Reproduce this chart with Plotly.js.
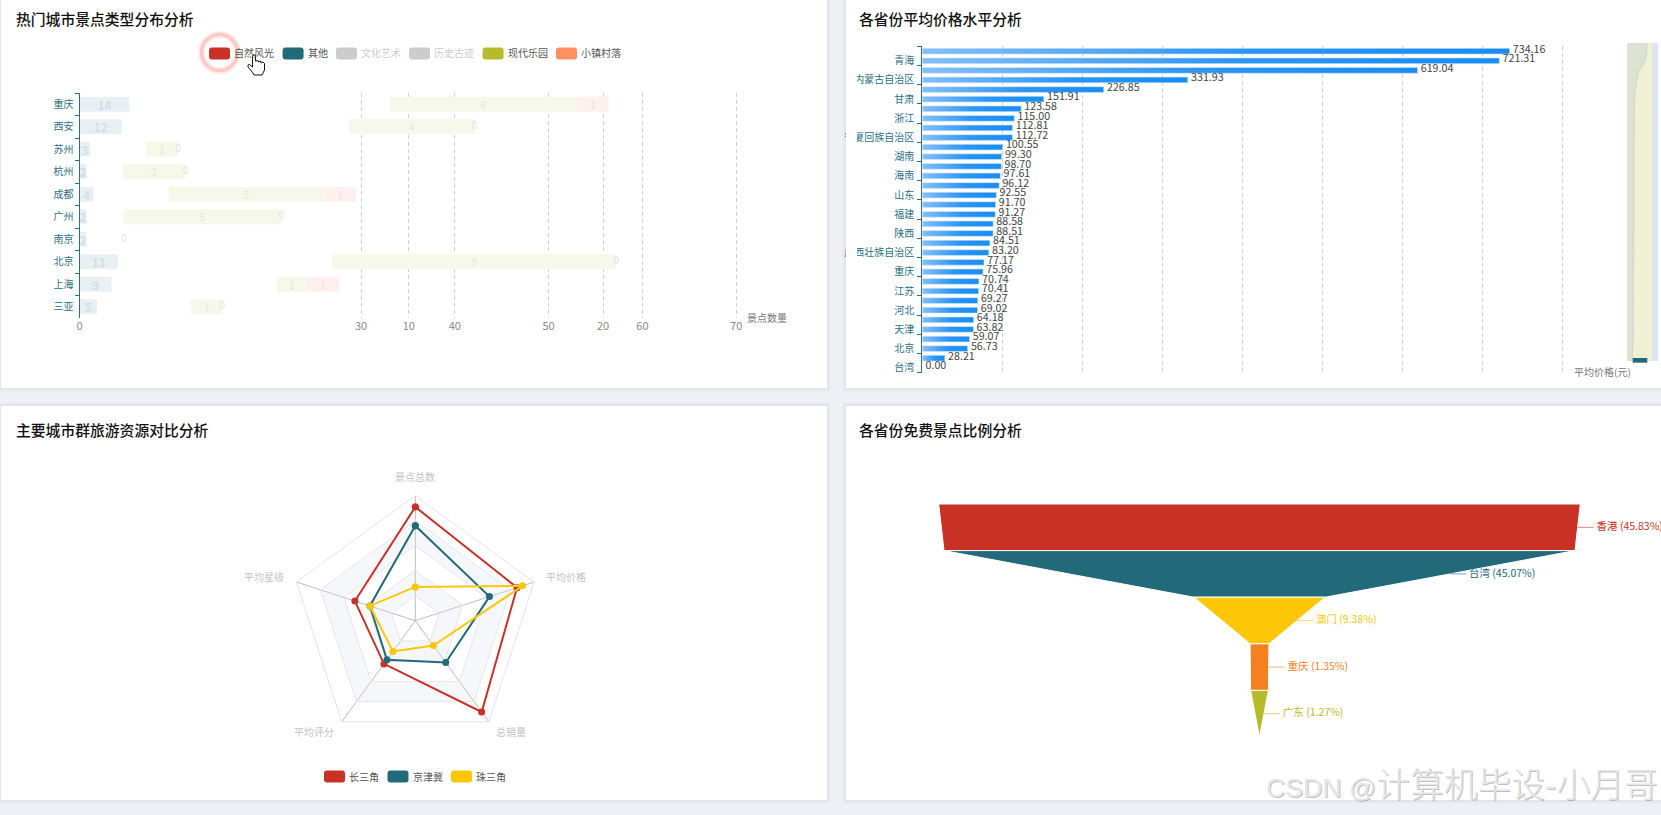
<!DOCTYPE html>
<html><head><meta charset="utf-8">
<script src="https://cdn.plot.ly/plotly-3.0.1.min.js"></script>
<style>html,body{margin:0;padding:0;background:#eef0f5;overflow:hidden}#c{width:1661px;height:815px}</style>
</head><body><div id="c"></div>
<script>
// ---------- data ----------
const cities = ['重庆','西安','苏州','杭州','成都','广州','南京','北京','上海','三亚'];
const otherCounts = [14,12,3,2,4,2,2,11,9,5];
const parkCounts = [6,4,1,2,5,5,0,9,1,1];
const townCounts = [1,0,0,0,1,0,0,0,1,0];
// mid-animation extents as read against the drawn axis
const otherEnd = [5.3,4.5,1.1,0.75,1.5,0.75,0.75,4.1,3.4,1.85];
const parkStart = [33.1,28.7,7.1,4.6,9.5,4.7,4.7,26.9,21.0,11.9];
const parkEnd = [53.0,42.1,10.5,11.3,26.1,21.5,4.7,57.2,24.2,15.2];
const townEnd = [56.4,42.1,10.5,11.3,29.5,21.5,4.7,57.2,27.7,15.2];
const countTickVals = [0,30,35.1,40,50,55.8,60,70];
const countTickText = ['0','30','10','40','50','20','60','70'];
const typeNames = ['自然风光','其他','文化艺术','历史古迹','现代乐园','小镇村落'];
const typeColors = ['#c93127','#22697a','#cccccc','#cccccc','#b5bb2b','#ff8f63'];
const typeTextColors = ['#555','#555','#ccc','#ccc','#555','#555'];
const typeLegendX = [209,282.6,336,409,482.6,556];

const provinces = ['?1','青海','?3','内蒙古自治区','?5','甘肃','?7','浙江','?9','宁夏回族自治区','?11','湖南','?13','海南','?15','山东','?17','福建','?19','陕西','?21','广西壮族自治区','?23','重庆','?25','江苏','?27','河北','?29','天津','?31','北京','?33','台湾'];
const prices = [734.16,721.31,619.04,331.93,226.85,151.91,123.58,115.00,112.81,112.72,100.55,99.30,98.70,97.61,96.12,92.55,91.70,91.27,88.58,88.51,84.51,83.20,77.17,75.96,70.74,70.41,69.27,69.02,64.18,63.82,59.07,56.73,28.21,0.00];

const radarAxes = ['景点总数','平均价格','总销量','平均评分','平均星级'];
const radarLabelX = [415,565.7,510.7,314,264];
const radarLabelY = [476.7,576.7,731,731,576.7];
const yangtze = [91,85.6,90.3,42.7,50.8];
const beijing = [76,62.4,41.4,38.6,38.2];
const pearl = [27,90.2,24.6,30.4,38.2];
const clusterNames = ['长三角','京津冀','珠三角'];
const clusterColors = ['#c93127','#22697a','#fdc708'];
const clusterLegendX = [324,387.5,451];
const bandLevels = [[80,60],[40,20]];

const funnelNames = ['香港','台湾','澳门','重庆','广东'];
const funnelValues = [45.83,45.07,9.38,1.35,1.27];
const funnelColors = ['#c93127','#22697a','#fdc708','#f3811f','#b5bb2b'];

const titles = [['热门城市景点类型分布分析',13.5,19],['各省份平均价格水平分析',856.5,19],['主要城市群旅游资源对比分析',13.5,429.5],['各省份免费景点比例分析',856.5,429.5]];
const WATERMARK_LATIN = 'CSDN @';
const WATERMARK_CJK = '计算机毕设-小月哥';

// ---------- helpers ----------
const W=1661,H=815,FONT='"Noto Sans CJK SC","Noto Sans",sans-serif';
const px=x=>x/W, py=y=>1-y/H;
const dx=(a,b)=>[a/W,b/W], dy=(top,bot)=>[1-bot/H,1-top/H];
const rect=(x0,y0,x1,y1,fill,layer)=>({type:'rect',xref:'paper',yref:'paper',x0:px(x0),x1:px(x1),y0:py(y0),y1:py(y1),fillcolor:fill,line:{width:0},layer:layer||'below'});
const pathOf=pts=>'M'+pts.map(p=>px(p[0])+','+py(p[1])).join('L')+'Z';
function swatch(x,y,w,h,c){const r=3;
  const s=`M${px(x+r)},${py(y)}L${px(x+w-r)},${py(y)}Q${px(x+w)},${py(y)} ${px(x+w)},${py(y+r)}L${px(x+w)},${py(y+h-r)}Q${px(x+w)},${py(y+h)} ${px(x+w-r)},${py(y+h)}L${px(x+r)},${py(y+h)}Q${px(x)},${py(y+h)} ${px(x)},${py(y+h-r)}L${px(x)},${py(y+r)}Q${px(x)},${py(y)} ${px(x+r)},${py(y)}Z`;
  return {type:'path',xref:'paper',yref:'paper',path:s,fillcolor:c,line:{width:0},layer:'below'};}
const note=(t,x,y,size,color,anchor,extra)=>Object.assign({xref:'paper',yref:'paper',x:px(x),y:py(y),text:t,showarrow:false,xanchor:anchor||'left',yanchor:'middle',font:{family:FONT,size:size,color:color}},extra||{});

// ---------- shapes & notes ----------
const cards=[[1,0,827,388],[846,0,1661,388],[1,406,827,800],[846,406,1661,800]];
const shapes=[],annos=[];
cards.forEach(c=>{
  shapes.push(rect(c[0]-4,c[1]-4,c[2]+4,c[3]+4,'rgba(60,70,100,0.025)'));
  shapes.push(rect(c[0]-2,c[1]-2,c[2]+2,c[3]+2,'rgba(60,70,100,0.04)'));
  shapes.push(rect(c[0],c[1],c[2],c[3],'#ffffff'));
});
titles.forEach(t=>annos.push(note(t[0],t[1],t[2],14.8,'#111111','left',{font:{family:FONT,size:14.8,color:'#111',weight:500}})));
// legend 1
typeNames.forEach((n,i)=>{
  shapes.push(swatch(typeLegendX[i],47.5,21,12,typeColors[i]));
  annos.push(note(n,typeLegendX[i]+23,53,10,typeTextColors[i]));
});
// legend ripple and pointer
const ripple=(r,w,c)=>({type:'circle',xref:'paper',yref:'paper',x0:px(219.5-r),x1:px(219.5+r),y0:py(52.5-r),y1:py(52.5+r),fillcolor:'rgba(0,0,0,0)',line:{color:c,width:w},layer:'below'});
shapes.push(ripple(18,7,'rgba(250,170,165,0.22)'));
shapes.push(ripple(18,3.5,'rgba(250,170,165,0.5)'));
const hand=[[253,55],[255.5,55],[255.5,61],[258,60.5],[258.4,62],[260.5,61],[261,63],[263,62],[264.5,63.5],[264.5,70],[262,75],[254,75],[253,73],[248,67],[248,65],[249.5,64.5],[252.5,67],[252.5,56]];
shapes.push({type:'path',xref:'paper',yref:'paper',path:pathOf(hand),fillcolor:'#fff',line:{color:'#111',width:1},layer:'above'});
// legend 3
clusterNames.forEach((n,i)=>{
  shapes.push(swatch(clusterLegendX[i],770.5,21,12,clusterColors[i]));
  annos.push(note(n,clusterLegendX[i]+23,776,10,'#555'));
});
// radar labels
radarAxes.forEach((n,i)=>annos.push(note(n,radarLabelX[i],radarLabelY[i],10,'#c2c2c2','center')));
// province label clip
shapes.push(rect(846,40,857,378,'#ffffff','above'));
// data-zoom frame
shapes.push(rect(1627.3,43,1652,361,'#eff0d4'));
shapes.push(rect(1652,43,1658,361,'#dde5f4'));
shapes.push(rect(1627.3,43,1632.7,361,'#dde1cf'));
shapes.push(rect(1632.7,358,1647.3,362.7,'#22697a','above'));
annos.push(note('景点数量',745,317,10,'#777'));
annos.push(note('平均价格(元)',1572,371,10,'#777'));
annos.push(note('<span style="font-size:26.7px">'+WATERMARK_LATIN+'</span>'+WATERMARK_CJK,1264,785,33.8,'#e4e4e4','left',{font:{family:'"Liberation Sans","Noto Sans CJK SC",sans-serif',size:33.8,color:'#e6e6e6',weight:300,shadow:'1px 1px 0 rgba(140,140,140,0.55)'}}));

// ---------- traces ----------
const traces=[];
const diff=(a,b)=>a.map((v,i)=>v-b[i]);
const zeroBase=cities.map(()=>0);
function stack(xv,base,text,color,tc,size,weight){
  traces.push({type:'bar',orientation:'h',x:xv,y:cities,base:base,width:0.67,text:text.map(String),textposition:'inside',insidetextanchor:'middle',constraintext:'none',textangle:0,marker:{color:color},textfont:{family:FONT,size:size,color:tc,weight:weight||400},cliponaxis:false,hoverinfo:'skip',xaxis:'x',yaxis:'y'});
}
stack(otherEnd,zeroBase,otherCounts,'#e9f0f4','#d3dee4',12,700);
stack(diff(parkEnd,parkStart),parkStart,parkCounts.map(v=>v||''),'#f6f8e9','#e6e7d5',10);
stack(diff(townEnd,parkEnd),parkEnd,townCounts.map(v=>v||''),'#fef0ee','#f3dcd8',10);
// zero labels of the empty segments
const zeros=cities.map((c,i)=>townCounts[i]===0?i:-1).filter(i=>i>=0);
traces.push({type:'scatter',mode:'text',x:zeros.map(i=>parkEnd[i]),y:zeros.map(i=>cities[i]),text:zeros.map(()=>'0'),textposition:'middle center',textfont:{family:FONT,size:10,color:'#e3e3e3'},cliponaxis:false,hoverinfo:'skip',xaxis:'x',yaxis:'y'});

traces.push({type:'bar',orientation:'h',x:prices,y:provinces,width:0.6,marker:{color:'#188df0'},hoverinfo:'skip',xaxis:'x2',yaxis:'y2'});
// value labels sit a hair above and beyond the bar end
traces.push({type:'scatter',mode:'text',x:prices.map(v=>v+4),y:prices.map((v,i)=>i-0.14),text:prices.map(v=>v.toFixed(2)),textposition:'middle right',textfont:{family:FONT,size:10.7,color:'#444'},cliponaxis:false,hoverinfo:'skip',xaxis:'x2',yaxis:'y5'});

// data-zoom silhouette
traces.push({type:'scatter',mode:'lines',x:prices,y:prices.map((v,i)=>i),fill:'tozerox',fillcolor:'#dde1cf',line:{color:'#ccd5cf',width:1,shape:'spline'},hoverinfo:'skip',xaxis:'x4',yaxis:'y4'});

// radar
const sub='polar';
const thetaClosed=radarAxes.concat(radarAxes[0]);
bandLevels.forEach(b=>{
  const outer=thetaClosed.map(()=>b[0]), inner=thetaClosed.map(()=>b[1]);
  traces.push({type:'scatterpolar',mode:'lines',r:outer.concat(inner),theta:thetaClosed.concat(thetaClosed.slice().reverse()),fill:'toself',fillcolor:'rgba(220,227,242,0.27)',line:{width:0},hoverinfo:'skip',subplot:sub});
});
[yangtze,beijing,pearl].forEach((s,i)=>{
  traces.push({type:'scatterpolar',mode:'lines+markers',r:s.concat(s[0]),theta:thetaClosed,line:{color:clusterColors[i],width:2},marker:{color:clusterColors[i],size:7},hoverinfo:'skip',subplot:sub});
});

// funnel
funnelValues.forEach((v,i)=>{
  const next=i<funnelValues.length-1?funnelValues[i+1]:0;
  traces.push({type:'scatter',mode:'lines',x:[-v/2,v/2,next/2,-next/2,-v/2],y:[i,i,i+1,i+1,i],fill:'toself',fillcolor:funnelColors[i],line:{color:'#fff',width:1},hoverinfo:'skip',xaxis:'x3',yaxis:'y3'});
  const edge=(v+next)/4;
  traces.push({type:'scatter',mode:'lines',x:[edge,edge+1.15],y:[i+.5,i+.5],line:{color:funnelColors[i],width:1},opacity:.6,hoverinfo:'skip',cliponaxis:false,xaxis:'x3',yaxis:'y3'});
  traces.push({type:'scatter',mode:'text',x:[edge+1.35],y:[i+.5],text:[funnelNames[i]+' ('+v.toFixed(2)+'%)'],textposition:'middle right',textfont:{family:FONT,size:10.5,color:funnelColors[i]},cliponaxis:false,hoverinfo:'skip',xaxis:'x3',yaxis:'y3'});
});

// ---------- layout ----------
const teal='#2c7083';
const cx=1259.5, cs=14;
const dash='4px,3px';
const layout={
  width:W,height:H,margin:{l:0,r:0,t:0,b:0},paper_bgcolor:'#eef0f5',plot_bgcolor:'rgba(0,0,0,0)',showlegend:false,barmode:'overlay',
  font:{family:FONT},shapes:shapes,annotations:annos,
  xaxis:{domain:dx(79.6,745.6),range:[0,71],tickmode:'array',tickvals:countTickVals,ticktext:countTickText,showgrid:true,griddash:dash,gridcolor:'#cfcfcf',gridwidth:1,zeroline:false,showline:false,ticks:'',tickfont:{family:FONT,size:11,color:'#888'},ticklabelstandoff:2.5,anchor:'y'},
  yaxis:{domain:dy(93,318),type:'category',categoryorder:'array',categoryarray:cities,range:[9.5,-0.5],showgrid:false,zeroline:false,showline:true,linecolor:teal,linewidth:1,ticks:'outside',ticklen:4,tickcolor:teal,tickson:'boundaries',tickfont:{family:FONT,size:10,color:teal},ticklabelstandoff:3,anchor:'x'},
  xaxis2:{domain:dx(922.3,1570.3),range:[0,810],dtick:100,tick0:0,showgrid:true,griddash:dash,gridcolor:'#cfcfcf',zeroline:false,showline:false,ticks:'',showticklabels:false,anchor:'y2'},
  yaxis2:{domain:dy(46.4,372.6),type:'category',categoryorder:'array',categoryarray:provinces,range:[33.5,-0.5],tickmode:'array',tickvals:provinces.filter((p,i)=>i%2===1),ticktext:provinces.filter((p,i)=>i%2===1),showgrid:false,zeroline:false,showline:true,linecolor:teal,linewidth:1,ticks:'',tickfont:{family:FONT,size:10,color:teal},ticklabelstandoff:5,anchor:'x2'},
  yaxis5:{domain:dy(46.4,372.6),overlaying:'y2',anchor:'x2',side:'left',range:[33.5,-0.5],tickmode:'linear',tick0:-0.5,dtick:2,ticks:'outside',ticklen:4,tickcolor:teal,showticklabels:false,showgrid:false,zeroline:false,showline:false},
  xaxis3:{domain:dx(846,1661),range:[(846-cx)/cs,(1661-cx)/cs],visible:false,anchor:'y3',fixedrange:true},
  yaxis3:{domain:dy(504,737),range:[5,0],visible:false,anchor:'x3'},
  xaxis4:{domain:dx(1627.3,1658),range:[-226,1279],visible:false,anchor:'y4'},
  yaxis4:{domain:dy(43,361),range:[33,0],visible:false,anchor:'x4'},
  polar:{domain:{x:dx(290.3,540.3),y:dy(495.7,745.7)},gridshape:'linear',bgcolor:'rgba(0,0,0,0)',
    radialaxis:{range:[0,100],tickvals:[20,40,60,80,100],showticklabels:false,ticks:'',showline:false,gridcolor:'#e8e8e8',angle:90},
    angularaxis:{type:'category',categoryorder:'array',categoryarray:radarAxes,rotation:90,direction:'clockwise',showline:true,linecolor:'#e4e4e4',gridcolor:'#bcbcbc',ticks:'',showticklabels:false}}
};
Plotly.newPlot('c',traces,layout,{displayModeBar:false,staticPlot:true}).then(gd=>{
  // left-to-right gradient on the price bars
  const svg=gd.querySelector('.main-svg'), NS='http://www.w3.org/2000/svg';
  let defs=svg.querySelector('defs');
  const g=document.createElementNS(NS,'linearGradient');
  g.setAttribute('id','priceGrad');g.setAttribute('x1','0');g.setAttribute('x2','1');g.setAttribute('y1','0');g.setAttribute('y2','0');
  [['0','#83bff6'],['0.55','#2a95f2'],['1','#188df0']].forEach(s=>{const st=document.createElementNS(NS,'stop');st.setAttribute('offset',s[0]);st.setAttribute('stop-color',s[1]);g.appendChild(st);});
  defs.appendChild(g);
  gd.querySelectorAll('.subplot.x2y2 .barlayer .point path').forEach(p=>{p.style.fill='url(#priceGrad)';p.style.stroke='#d5e9fb';p.style.strokeWidth='0.6px';});
});
</script></body></html>
